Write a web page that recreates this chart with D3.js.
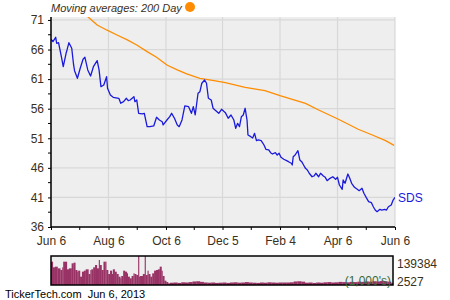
<!DOCTYPE html>
<html><head><meta charset="utf-8">
<script src="https://cdn.jsdelivr.net/npm/d3@7"></script>
<style>body{margin:0;background:#fff}svg{display:block;font-family:"Liberation Sans",Arial,sans-serif}</style>
</head><body><svg id="c" width="450" height="300"></svg>
<script>
const startDate = "2012-06-06";
const endDate = "2013-06-06";
// SDS close: days after start date, value
const sdsDays = [0,2,5,6,8,11,13,16,17,19,22,24,25,28,31,34,36,39,42,45,49,51,53,56,59,60,63,66,72,74,77,80,82,84,88,89,91,93,97,99,102,105,109,112,115,118,119,123,126,128,131,134,136,139,142,146,149,151,153,156,158,160,163,165,167,170,172,174,178,181,185,188,191,194,196,198,200,202,204,206,208,209,212,214,216,218,220,223,226,228,231,233,235,238,240,242,244,247,250,252,255,256,257,259,262,264,266,268,270,272,274,277,279,281,284,286,289,291,293,296,299,302,304,306,309,310,312,315,317,319,322,325,327,330,332,335,337,340,342,344,346,349,351,354,356,358,361,363,365];
const sdsValues = [67.74,67.33,68.07,67.06,67.16,64.79,63.10,65.37,65.93,67.16,66.21,63.39,62.43,61.14,62.83,64.36,64.69,62.55,61.53,63.10,64.12,62.55,59.72,60.01,61.41,59.45,58.32,57.93,57.76,56.91,57.19,57.76,57.35,57.47,58.03,57.19,57.47,55.22,55.11,55.22,52.96,52.96,53.08,54.55,54.09,53.80,53.25,54.09,54.65,55.22,54.38,53.25,52.96,54.09,56.46,56.34,55.22,56.34,54.94,58.61,58.88,60.30,60.85,60.30,57.76,57.47,56.07,55.78,55.22,55.90,55.33,54.38,54.94,54.09,52.69,53.53,52.96,54.65,54.94,56.07,54.09,51.55,51.27,51.05,51.84,50.59,50.71,50.59,49.86,49.14,49.02,48.56,48.34,48.56,48.17,48.46,47.78,47.45,47.21,47.04,46.77,46.48,47.89,48.17,48.90,47.33,47.04,46.48,45.92,45.64,45.08,44.50,44.62,45.08,44.50,45.08,44.62,44.40,43.83,44.23,44.50,44.06,44.40,43.10,42.37,43.95,43.39,44.96,44.23,43.39,42.71,42.37,42.14,42.54,41.70,40.85,40.28,40.11,39.43,38.87,38.59,38.99,38.87,38.99,38.87,39.43,39.72,40.56,41.02];
// 200 day moving average
const maDays = [31,39,49,59,70,81,91,102,112,123,134,144,158,173,185,206,227,243,270,284,305,326,341,355,364];
const maValues = [72.61,71.56,70.15,69.31,68.46,67.62,66.77,65.64,64.69,63.39,62.55,61.87,61.14,60.74,60.40,59.62,59.05,58.20,56.91,55.78,54.21,52.52,51.55,50.59,49.80];
// volume (1,000's)
const volDays = [0,2,4,7,10,12,13,17,19,22,24,26,28,29,31,33,35,37,40,42,43,45,47,49,51,52,54,56,58,59,61,63,65,66,68,70,72,74,75,77,79,81,82,84,86,88,89,91,93,94,95,98,100,101,103,104,106,108,110,112,114,116,118,119,121,123,125,127,131,135,139,143,147,151,155,159,163,167,171,175,179,183,187,191,195,199,203,207,211,215,219,223,227,231,235,239,243,247,251,255,259,263,267,271,275,279,283,287,291,295,299,303,307,311,315,319,323,327,331,335,339,343,347,351,355,359,363];
const volValues = [112.1,84.9,88.1,80.1,72.1,84.9,112.1,75.3,80.1,104.1,107.3,72.1,64.1,68.9,40.1,64.1,68.9,75.3,52.9,72.1,75.3,84.9,96.1,80.1,120.2,96.1,72.1,112.1,112.1,72.1,52.9,68.9,52.9,75.3,64.1,52.9,40.1,32.0,43.3,68.9,64.1,56.1,40.1,32.0,43.3,56.1,52.9,48.1,139.4,40.1,43.3,52.9,139.4,48.1,68.9,52.9,40.1,56.1,68.9,72.1,75.3,88.1,68.9,43.3,20.8,14.4,8.0,11,12,10,13,12,14,17,18,15,12,11,12,10,11,12,10,12,13,11,12,14,12,11,10,12,11,13,12,11,12,12,12,13,17,18,16,11,12,10,12,11,13,14,12,13,15,14,13,15,14,16,15,17,16,18,17,19,18,16,10];
const yTicks = [36,41,46,51,56,61,66,71];
const xTickDates = ["2012-06-06","2012-08-06","2012-10-06","2012-12-05","2013-02-04","2013-04-06","2013-06-06"];
const xTickLabels = ["Jun 6","Aug 6","Oct 6","Dec 5","Feb 4","Apr 6","Jun 6"];
const volMax = 139384, volMin = 2527;
const legendText = "Moving averages: 200 Day";
const seriesName = "SDS";

const parse = d3.timeParse("%Y-%m-%d");
const t0 = parse(startDate), t1 = parse(endDate);
const svg = d3.select("#c");
const L = 51, R = 395, T = 17, B = 227;
const x = d3.scaleTime().domain([t0, t1]).range([L, R]);
const y = d3.scaleLinear().domain([36, 71.5]).range([B, T]);
const txtCol = "#3b3020";

// plot background
svg.append("rect").attr("x", L).attr("y", T).attr("width", R - L).attr("height", B - T).attr("fill", "#eeeeee");
// grid
const g = svg.append("g");
yTicks.forEach(v => g.append("line").attr("x1", L).attr("x2", R).attr("y1", y(v)).attr("y2", y(v)).attr("stroke", "#d8d8d8").attr("stroke-width", 1.2));
xTickDates.forEach(d => g.append("line").attr("x1", x(parse(d))).attr("x2", x(parse(d))).attr("y1", T).attr("y2", B).attr("stroke", "#d8d8d8").attr("stroke-width", 1.2));

svg.append("clipPath").attr("id", "clip").append("rect").attr("x", L).attr("y", T).attr("width", R - L).attr("height", B - T);

const ma = maDays.map((d, i) => ({ t: d3.timeDay.offset(t0, d), v: maValues[i] }));
const sds = sdsDays.map((d, i) => ({ t: d3.timeDay.offset(t0, d), v: sdsValues[i] }));
const line = d3.line().x(d => x(d.t)).y(d => y(d.v));
svg.append("path").datum(ma).attr("d", line).attr("fill", "none").attr("stroke", "#ff8c00").attr("stroke-width", 1.3).attr("clip-path", "url(#clip)");
svg.append("path").datum(sds).attr("d", line).attr("fill", "none").attr("stroke", "#1a1adc").attr("stroke-width", 1.3).attr("stroke-linejoin", "round").attr("clip-path", "url(#clip)");

// y axis
const yAxis = d3.axisLeft(y).tickValues(yTicks).tickSize(3).tickPadding(4).tickFormat(d3.format("d"));
const ya = svg.append("g").attr("transform", `translate(${L},0)`).call(yAxis);
ya.select(".domain").attr("d", `M0,${T}V${B}`).attr("stroke", "#000").attr("stroke-width", 1.5);
ya.selectAll(".tick line").attr("stroke", "#000");
ya.selectAll("text").attr("font-size", 12).attr("fill", txtCol).attr("font-family", "Liberation Sans, Arial, sans-serif");
const yMinor = yTicks.slice(0, -1).map(v => v + 2.5);
yMinor.forEach(v => ya.append("line").attr("x1", -3).attr("x2", 0).attr("y1", y(v)).attr("y2", y(v)).attr("stroke", "#000"));

// x axis
const xt = xTickDates.map(parse);
const xAxis = d3.axisBottom(x).tickValues(xt).tickSize(3).tickPadding(6).tickFormat((d, i) => xTickLabels[i]);
const xa = svg.append("g").attr("transform", `translate(0,${B})`).call(xAxis);
xa.select(".domain").attr("d", `M${L},0H${R}`).attr("stroke", "#000").attr("stroke-width", 1.5);
xa.selectAll(".tick line").attr("stroke", "#000");
xa.selectAll("text").attr("font-size", 12).attr("fill", txtCol).attr("font-family", "Liberation Sans, Arial, sans-serif");
for (let i = 0; i < xt.length - 1; i++) {
  const mx = (x(xt[i]) + x(xt[i + 1])) / 2;
  xa.append("line").attr("x1", mx).attr("x2", mx).attr("y1", 0).attr("y2", 3).attr("stroke", "#000");
}

// series label
const last = sds[sds.length - 1];
svg.append("text").attr("x", R + 3).attr("y", y(last.v)).attr("dy", "0.35em").attr("font-size", 12).attr("fill", "#1a1adc").text(seriesName);

// legend
svg.append("text").attr("x", 51).attr("y", 12).attr("font-size", 11).attr("font-style", "italic").attr("fill", txtCol).text(legendText);
svg.append("circle").attr("cx", 190).attr("cy", 7).attr("r", 5).attr("fill", "#ff8c00");

// volume panel
const VL = 51, VR = 393, VT = 256, VB = 285;
const xv = d3.scaleTime().domain([t0, t1]).range([VL, VR]);
const yv = d3.scaleLinear().domain([0, volMax / 1000]).range([VB, VT]);
svg.append("rect").attr("x", VL).attr("y", VT).attr("width", VR - VL).attr("height", VB - VT).attr("fill", "#eeeeee");
const vt = volDays.map(d => d3.timeDay.offset(t0, d));
svg.append("g").selectAll("rect").data(volValues).join("rect")
  .attr("x", (d, i) => xv(vt[i]))
  .attr("width", (d, i) => Math.max(0.8, (i < vt.length - 1 ? xv(vt[i + 1]) : VR) - xv(vt[i]) + 0.2))
  .attr("y", d => yv(d))
  .attr("height", d => VB - yv(d))
  .attr("fill", "#993366");
svg.append("rect").attr("x", VL).attr("y", VT).attr("width", VR - VL).attr("height", VB - VT).attr("fill", "none").attr("stroke", "#000").attr("stroke-width", 1.5);
svg.append("text").attr("x", 391).attr("y", 285).attr("text-anchor", "end").attr("font-size", 12).attr("fill", "#3a6a3a").text("(1,000's)");
svg.append("text").attr("x", 397).attr("y", 268).attr("font-size", 12).attr("fill", txtCol).text(d3.format("d")(volMax));
svg.append("text").attr("x", 397).attr("y", 286).attr("font-size", 12).attr("fill", txtCol).text(d3.format("d")(volMin));
svg.append("text").attr("x", 5).attr("y", 298).attr("font-size", 11).attr("fill", "#000").style("white-space", "pre").text("TickerTech.com  Jun 6, 2013");
</script></body></html>
